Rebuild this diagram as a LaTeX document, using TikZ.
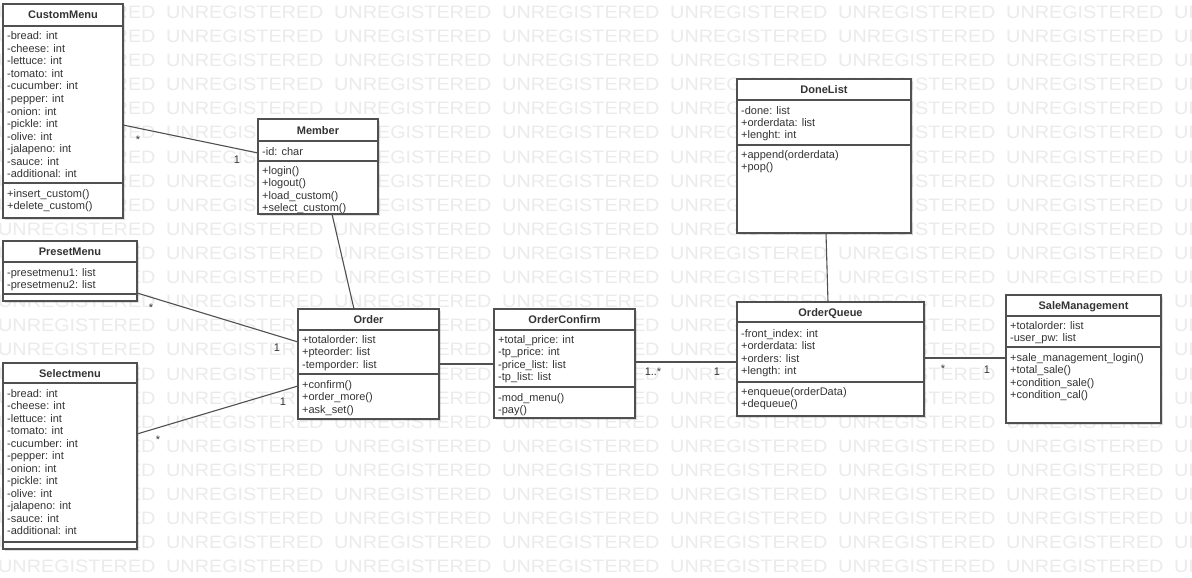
\documentclass[tikz,border=0pt]{standalone}
\usepackage{fontspec}
\setmainfont{Liberation Sans}
\usetikzlibrary{calc,shadows}
\definecolor{inkc}{HTML}{333333}
\definecolor{linec}{HTML}{505050}
\definecolor{wmc}{HTML}{EBEBEB}
\tikzset{
  classbox/.style={draw=linec, line width=1.1pt, fill=white, anchor=north west,
    inner sep=0pt, outer sep=0pt,
    drop shadow={shadow xshift=2pt, shadow yshift=-2pt, fill=black, opacity=0.12}},
  divider/.style={draw=linec, line width=1.1pt},
  titletext/.style={anchor=base, inner sep=0pt, text=inkc, font=\fontsize{11}{12}\selectfont\bfseries},
  membertext/.style={anchor=base west, inner sep=0pt, text=inkc, font=\fontsize{11}{12}\selectfont},
  assoc/.style={draw=linec, line width=1.1pt},
  mult/.style={anchor=base, inner sep=0pt, text=inkc, font=\fontsize{11}{12}\selectfont},
  wm/.style={anchor=base west, inner sep=0pt, text=wmc, font=\fontsize{18}{18}\selectfont},
}
% name, x1, x2, top, header line, separator, bottom, title
\newcommand{\umlbox}[8]{%
  \node[classbox, minimum width={(#3)-(#2)}, minimum height={(#7)-(#4)}] (#1) at (#2,#4) {};
  \draw[divider] (#2,#5) -- (#3,#5) (#2,#6) -- (#3,#6);
  \node[titletext] (#1-t) at ({(#2+#3)/2},{(#4+#5)/2+4}) {#8};
}
% prefix, x1 of box, centre y of first line, list of lines
\newcommand{\umllines}[4]{%
  \foreach \t [count=\i] in {#4} {\node[membertext] (#1-\i) at ({#2+4},{#3+(\i-1)*12.5+4}) {\t};}
}
\begin{document}
\begin{tikzpicture}[x=1pt,y=-1pt]
\useasboundingbox (0,0) rectangle (1192,578);
\clip (0,0) rectangle (1192,578);
\fill[white] (0,0) rectangle (1192,578);
% watermark
\foreach \r in {0,...,23}{%
  \foreach \c in {0,...,7}{%
    \node[wm] (wm-\r-\c) at ({-2+168*\c},{12+24.1*\r+6.5}) {\scalebox{1.1}[1]{UNREGISTERED}};
  }%
}
% classes
\umlbox{cm}{3}{123}{4}{26}{183}{218}{CustomMenu}
\umllines{cm-a}{3}{36}{-bread: int,-cheese: int,-lettuce: int,-tomato: int,-cucumber: int,-pepper: int,-onion: int,-pickle: int,-olive: int,-jalapeno: int,-sauce: int,-additional: int}
\umllines{cm-o}{3}{193}{+insert\_custom(),+delete\_custom()}

\umlbox{mem}{258}{378}{119}{141}{161}{214}{Member}
\umllines{mem-a}{258}{151}{-id: char}
\umllines{mem-o}{258}{170}{+login(),+logout(),+load\_custom(),+select\_custom()}

\umlbox{pm}{3}{137}{241}{262}{294}{301}{PresetMenu}
\umllines{pm-a}{3}{272}{-presetmenu1: list,-presetmenu2: list}

\umlbox{sm}{3}{137}{363}{383}{542}{549}{Selectmenu}
\umllines{sm-a}{3}{393}{-bread: int,-cheese: int,-lettuce: int,-tomato: int,-cucumber: int,-pepper: int,-onion: int,-pickle: int,-olive: int,-jalapeno: int,-sauce: int,-additional: int}

\umlbox{ord}{298}{439}{309}{330}{374}{419}{Order}
\umllines{ord-a}{298}{339}{+totalorder: list,+pteorder: list,-temporder: list}
\umllines{ord-o}{298}{384}{+confirm(),+order\_more(),+ask\_set()}

\umlbox{oc}{494}{635}{309}{330}{387}{418}{OrderConfirm}
\umllines{oc-a}{494}{339}{+total\_price: int,-tp\_price: int,-price\_list: list,-tp\_list: list}
\umllines{oc-o}{494}{397}{-mod\_menu(),-pay()}

\umlbox{dl}{737}{911}{79}{100}{145}{233}{DoneList}
\umllines{dl-a}{737}{110}{-done: list,+orderdata: list,+lenght: int}
\umllines{dl-o}{737}{154}{+append(orderdata),+pop()}

\umlbox{oq}{737}{924}{302}{322}{382}{416}{OrderQueue}
\umllines{oq-a}{737}{333}{-front\_index: int,+orderdata: list,+orders: list,+length: int}
\umllines{oq-o}{737}{391}{+enqueue(orderData),+dequeue()}

\umlbox{sale}{1006}{1161}{295}{316}{347}{423}{SaleManagement}
\umllines{sale-a}{1006}{325}{+totalorder: list,-user\_pw: list}
\umllines{sale-o}{1006}{357}{+sale\_management\_login(),+total\_sale(),+condition\_sale(),+condition\_cal()}

% associations
\draw[assoc] ($(cm.north east)+(0,121)$) -- ($(mem.north west)+(0,34)$);
\draw[assoc] ($(mem.south west)+(74,0)$) -- ($(ord.north west)+(56,0)$);
\draw[assoc] ($(pm.north east)+(0,52)$) -- ($(ord.north west)+(0,33)$);
\draw[assoc] ($(sm.north east)+(0,71)$) -- ($(ord.north west)+(0,77)$);
\draw[assoc] ($(ord.north east)+(0,55)$) -- ($(oc.north west)+(0,55)$);
\draw[assoc] ($(oc.north east)+(0,53)$) -- ($(oq.north west)+(0,60)$);
\draw[assoc] ($(dl.south west)+(89,0)$) -- ($(oq.north west)+(91,0)$);
\draw[assoc] ($(oq.north east)+(0,56)$) -- ($(sale.north west)+(0,63)$);

% multiplicities
\node[mult] (m-cm) at (138,143) {*};
\node[mult] (m-mem) at (237,163) {1};
\node[mult] (m-pm) at (151,311) {*};
\node[mult] (m-ordp) at (277,351) {1};
\node[mult] (m-sm) at (158,443) {*};
\node[mult] (m-ords) at (283,405) {1};
\node[mult] (m-oc) at (653,375) {1..*};
\node[mult] (m-oqc) at (717,375) {1};
\node[mult] (m-oq) at (943,372) {*};
\node[mult] (m-sale) at (987,373) {1};
\end{tikzpicture}
\end{document}
